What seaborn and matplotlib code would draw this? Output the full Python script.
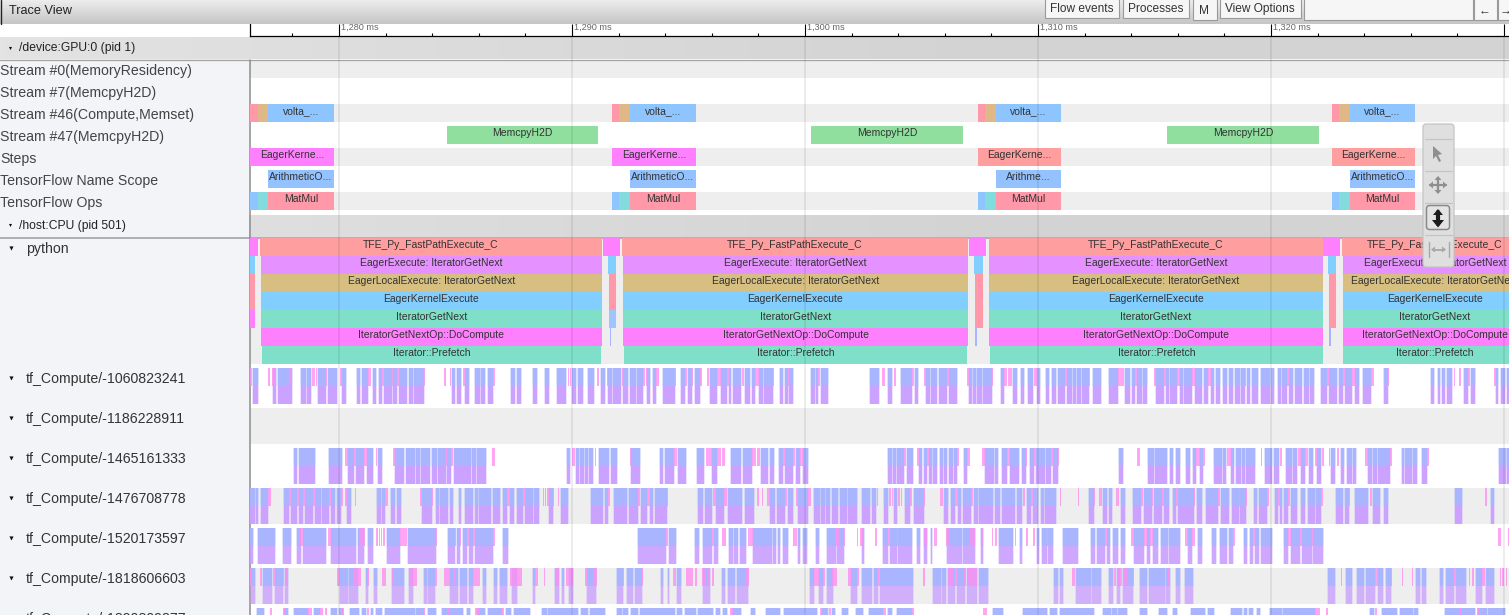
import numpy as np
import pandas as pd
import matplotlib
matplotlib.use("Agg")
import matplotlib.pyplot as plt
from matplotlib.patches import FancyBboxPatch, Polygon, Rectangle
import seaborn as sns

### Trace View (TensorFlow profiler) ###

# Tempos dos slices: unidades de 1/23.3 ms contadas a partir do inicio da janela
T0 = 1276.18
UNITS_PER_MS = 23.3
T_END = 1259

major_ms = [1280, 1290, 1300, 1310, 1320, 1330]
minor_ms = [1278, 1282, 1284, 1286, 1288, 1292, 1294, 1296, 1298, 1302, 1304, 1306, 1308,
            1312, 1314, 1316, 1318, 1322, 1324, 1326, 1328]
major_labels = ["1,280 ms", "1,290 ms", "1,300 ms", "1,310 ms", "1,320 ms", ""]

stream_names = ["Stream #0(MemoryResidency)", "Stream #7(MemcpyH2D)", "Stream #46(Compute,Memset)",
                "Stream #47(MemcpyH2D)", "Steps", "TensorFlow Name Scope", "TensorFlow Ops"]
track_names = ["python", "tf_Compute/-1060823241", "tf_Compute/-1186228911", "tf_Compute/-1465161333",
               "tf_Compute/-1476708778", "tf_Compute/-1520173597", "tf_Compute/-1818606603",
               "tf_Compute/-1899809877"]

# GPU
gpu_pre_a = [(0, 8), (362, 369), (728, 735), (1082, 1089)]
gpu_pre_b = [(8, 18), (369, 380), (735, 746), (1089, 1099.5)]
gpu_main = [(18, 84), (380, 446), (746, 811), (1099.5, 1165)]
memcpy_spans = [(196.5, 348), (561, 713), (917, 1069)]
steps_spans = [(0, 84), (362, 446), (728, 811), (1082, 1165)]
steps_colours = ["#ff80ff", "#ff80ff", "#ff9e9e", "#ff9e9e"]
scope_labels = ["ArithmeticO...", "ArithmeticO...", "Arithme...", "ArithmeticO..."]

# python (sete niveis empilhados)
py_names = ["TFE_Py_FastPathExecute_C", "EagerExecute: IteratorGetNext", "EagerLocalExecute: IteratorGetNext",
            "EagerKernelExecute", "IteratorGetNext", "IteratorGetNextOp::DoCompute", "Iterator::Prefetch"]
py_colours = ["#ff9e9e", "#e591ff", "#d6bf80", "#82ceff", "#7fdfc8", "#ff80ff", "#7fdfc8"]
py_spans = [[(10, 352), (371.5, 718), (738.5, 1073), (1091.5, 1277)],
            [(11, 352), (373, 718), (739, 1073), (1093, 1277)],
            [(11, 352), (373, 718), (739, 1073), (1093, 1277)],
            [(11, 352), (373, 718), (739, 1073), (1093, 1277)],
            [(11, 352), (373, 718), (739, 1073), (1093, 1277)],
            [(11, 352), (373, 718), (739, 1073), (1093, 1277)],
            [(12, 351), (374, 717), (740, 1073), (1093, 1277)]]
py_gap_spans = [(0, 0, 8, "#ff80ff"), (0, 353, 370, "#ff80ff"), (0, 719, 736, "#ff80ff"), (0, 1073, 1090, "#ff80ff"),
                (1, 0, 5, "#82ceff"), (1, 358, 366, "#82ceff"), (1, 724, 733, "#82ceff"), (1, 1078, 1086.5, "#82ceff"),
                (2, 0, 5, "#ff99aa"), (2, 359, 366, "#ff99aa"), (2, 725, 733, "#ff99aa"), (2, 1079, 1086, "#ff99aa"),
                (3, 0, 5, "#ff99aa"), (3, 359, 366, "#ff99aa"), (3, 725, 733, "#ff99aa"), (3, 1079, 1086, "#ff99aa"),
                (4, 0, 5, "#ff80ff"), (4, 359, 366, "#a0c4ff"), (4, 725, 733, "#ff99aa"), (4, 1079, 1086, "#ff99aa"),
                (5, 360, 361, "#a9b4ff"), (5, 725, 727, "#a9b4ff"), (5, 1079, 1081, "#a9b4ff")]

# tf_Compute
r1_busy = [(3, 8), (23, 26), (28, 42), (51, 56), (57, 61), (68, 76), (78, 87), (92, 96), (107, 110), (112, 118),
           (123, 126), (129, 132), (134, 142), (143, 147), (149, 157), (159, 163), (164, 174), (202, 205), (207, 211),
           (215, 219), (225, 230), (231, 235), (238, 243), (261, 265), (267, 271), (283, 287), (295, 299), (307, 316),
           (322, 326), (328, 333), (338, 344), (351, 355), (358, 362), (363, 371), (373, 378), (380, 386), (387, 393),
           (397, 400), (403, 406), (413, 425), (431, 435), (438, 442), (445, 450), (460, 467), (471, 477), (479, 481),
           (483, 491), (495, 500), (502, 505), (509, 513), (514, 523), (530, 533), (535, 538), (539, 543), (561, 565),
           (566, 568), (571, 578), (620, 629), (638, 642), (651, 662), (665, 668), (676, 680), (681, 687), (689, 697),
           (699, 707), (719, 722), (723, 726), (727, 732), (733, 742), (751, 754), (763, 767), (771, 774), (778, 783),
           (787, 790), (796, 799), (802, 806), (808, 815), (817, 822), (823, 826), (827, 831), (832, 839), (843, 851),
           (859, 868), (875, 880), (882, 885), (887, 892), (893, 897), (906, 914), (916, 919), (920, 927), (930, 933),
           (934, 942), (945, 952), (954, 958), (961, 964), (966, 970), (973, 977), (979, 983), (985, 990), (991, 995),
           (997, 1000), (1002, 1008), (1011, 1020), (1021, 1024), (1028, 1031), (1032, 1037), (1039, 1043), (1045, 1052),
           (1054, 1059), (1060, 1064), (1071, 1077), (1079, 1087), (1089, 1093), (1095, 1102), (1105, 1109), (1113, 1121),
           (1134, 1138), (1181, 1184), (1188, 1190), (1192, 1195), (1197, 1202), (1214, 1218), (1221, 1225), (1246, 1248),
           (1251, 1255), (1257, 1259)]
r1_pink = [(0, 2), (18, 20), (22, 25), (40, 42), (62, 65), (66, 67), (76, 77), (90, 92), (118, 121), (132, 134),
           (142, 143), (147, 149), (173, 175), (194, 196), (200, 201), (213, 215), (243, 245), (318, 319), (320, 321),
           (347, 349), (357, 358), (372, 373), (393, 395), (396, 397), (406, 409), (425, 426), (435, 437), (442, 443),
           (450, 452), (457, 459), (467, 471), (477, 479), (492, 494), (505, 509), (523, 524), (538, 539), (568, 570),
           (632, 635), (644, 646), (662, 664), (674, 676), (697, 699), (717, 719), (742, 743), (754, 757), (758, 762),
           (784, 787), (815, 817), (839, 840), (868, 874), (885, 887), (904, 906), (914, 916), (927, 930), (942, 945),
           (958, 961), (995, 996), (1037, 1039), (1077, 1079), (1093, 1095), (1102, 1105), (1121, 1124), (1138, 1139),
           (1204, 1205), (1209, 1211), (1218, 1220), (1244, 1246)]

r3_busy = [(44, 47), (49, 65), (79, 92), (98, 104), (106, 114), (117, 123), (128, 132), (145, 154), (156, 165), (166, 170),
           (171, 180), (182, 187), (188, 196), (197, 201), (204, 213), (213, 221), (222, 226), (227, 236), (317, 320),
           (326, 329), (330, 334), (335, 338), (339, 343), (349, 359), (361, 367), (381, 390), (410, 413), (415, 424),
           (428, 436), (447, 454), (462, 467), (481, 491), (493, 502), (511, 518), (520, 524), (529, 533), (535, 543),
           (546, 550), (553, 558), (638, 642), (643, 646), (647, 654), (657, 663), (669, 672), (674, 677), (679, 682),
           (683, 687), (690, 693), (694, 697), (699, 703), (704, 707), (714, 717), (735, 744), (745, 748), (752, 757),
           (760, 769), (772, 776), (780, 784), (786, 795), (796, 801), (803, 808), (869, 873), (898, 904), (905, 917),
           (920, 923), (926, 930), (936, 940), (943, 946), (950, 953), (964, 972), (973, 976), (981, 984), (986, 991),
           (992, 995), (996, 1005), (1015, 1022), (1024, 1029), (1036, 1042), (1043, 1047), (1051, 1055), (1059, 1063),
           (1067, 1071), (1081, 1085), (1091, 1094), (1097, 1102), (1103, 1106), (1118, 1122), (1123, 1127), (1128, 1134),
           (1134, 1140), (1152, 1154), (1155, 1162), (1163, 1167), (1172, 1177), (1249, 1256), (1257, 1259)]
r3_pink = [(49, 50), (95, 98), (104, 106), (114, 117), (126, 127), (143, 145), (196, 197), (201, 203), (242, 245),
           (322, 325), (345, 346), (380, 381), (424, 427), (456, 459), (459, 462), (467, 471), (472, 475), (502, 506),
           (507, 510), (533, 535), (543, 545), (550, 553), (654, 656), (667, 669), (677, 679), (707, 709), (717, 720),
           (732, 735), (757, 760), (776, 777), (784, 786), (801, 803), (808, 809), (887, 890), (946, 950), (953, 955),
           (977, 981), (1011, 1012), (1030, 1032), (1048, 1051), (1055, 1058), (1065, 1067), (1072, 1074), (1079, 1080),
           (1087, 1089), (1115, 1118), (1140, 1142), (1177, 1179)]

r4_busy = [(0, 5), (6, 8), (11, 18), (34, 39), (41, 47), (49, 53), (55, 63), (65, 71), (72, 79), (81, 85), (87, 91),
           (97, 101), (127, 131), (132, 135), (141, 145), (147, 151), (172, 182), (186, 189), (190, 198), (200, 203),
           (209, 211), (215, 223), (225, 228), (229, 241), (243, 250), (253, 257), (260, 264), (267, 273), (275, 283),
           (284, 289), (299, 303), (311, 318), (341, 353), (355, 358), (364, 377), (379, 388), (391, 397), (400, 403),
           (405, 417), (448, 453), (455, 462), (466, 474), (478, 492), (495, 504), (520, 525), (527, 535), (538, 543),
           (548, 558), (564, 570), (571, 575), (576, 580), (582, 588), (590, 597), (598, 607), (612, 620), (622, 626),
           (634, 638), (644, 647), (655, 660), (664, 674), (694, 698), (701, 705), (708, 711), (713, 721), (724, 728),
           (729, 743), (745, 750), (752, 765), (767, 772), (777, 781), (783, 788), (791, 794), (795, 806), (839, 844),
           (853, 857), (859, 862), (871, 875), (883, 891), (894, 902), (904, 912), (914, 919), (923, 926), (928, 944),
           (947, 952), (956, 968), (971, 979), (982, 989), (990, 996), (1004, 1007), (1009, 1017), (1025, 1028),
           (1030, 1032), (1034, 1038), (1041, 1047), (1051, 1055), (1058, 1065), (1066, 1071), (1086, 1093), (1095, 1099),
           (1105, 1118), (1123, 1130), (1134, 1138), (1205, 1212), (1241, 1244)]
r4_pink = [(18, 21), (39, 41), (47, 49), (53, 55), (63, 65), (79, 81), (91, 93), (95, 97), (105, 106), (135, 138),
           (170, 172), (182, 183), (257, 260), (273, 275), (293, 294), (295, 296), (297, 299), (303, 304), (308, 309),
           (358, 360), (388, 390), (397, 400), (417, 418), (463, 466), (474, 477), (507, 509), (512, 513), (517, 520),
           (535, 537), (546, 548), (558, 561), (627, 628), (639, 641), (642, 643), (648, 650), (651, 652), (660, 662),
           (674, 675), (690, 693), (705, 708), (721, 723), (773, 775), (781, 783), (810, 811), (828, 829), (844, 845),
           (849, 852), (866, 869), (891, 893), (902, 903), (912, 914), (926, 928), (944, 945), (968, 970), (989, 990),
           (996, 997), (1017, 1019), (1028, 1030), (1038, 1040), (1071, 1073), (1099, 1100), (1120, 1122), (1235, 1237)]

r5_busy = [(0, 3), (8, 25), (33, 41), (47, 51), (53, 76), (81, 106), (108, 114), (118, 123), (137, 150), (158, 186),
           (198, 205), (207, 210), (213, 217), (219, 223), (225, 243), (253, 258), (388, 416), (419, 426), (445, 449),
           (453, 462), (464, 468), (479, 483), (484, 488), (490, 496), (503, 522), (523, 526), (528, 530), (533, 538),
           (548, 550), (553, 557), (566, 569), (577, 586), (587, 594), (612, 614), (633, 638), (640, 647), (648, 662),
           (667, 670), (674, 677), (681, 682), (697, 712), (713, 725), (731, 733), (749, 763), (770, 772), (787, 789),
           (792, 797), (798, 803), (813, 828), (841, 845), (847, 855), (857, 860), (863, 868), (871, 875), (884, 894),
           (897, 900), (903, 908), (911, 918), (919, 930), (938, 942), (948, 952), (962, 966), (970, 977), (979, 983),
           (994, 997), (1000, 1003), (1005, 1009), (1011, 1022), (1034, 1038), (1041, 1050), (1052, 1062), (1063, 1073)]
r5_pink = [(50, 53), (78, 81), (110, 113), (114, 115), (126, 128), (129, 130), (131, 132), (133, 135), (150, 157),
           (186, 187), (205, 206), (210, 211), (217, 219), (223, 225), (243, 245), (415, 418), (462, 464), (472, 476),
           (498, 503), (543, 547), (586, 589), (594, 595), (607, 608), (610, 614), (625, 627), (638, 640), (647, 648),
           (674, 677), (684, 687), (696, 699), (720, 725), (731, 733), (742, 743), (745, 747), (765, 766), (776, 778),
           (783, 785), (797, 798), (855, 857), (881, 884), (894, 897), (900, 903), (935, 938), (942, 945), (983, 985),
           (1003, 1005), (1038, 1041), (1050, 1052), (1062, 1063), (1248, 1251), (1258, 1259)]

r6_busy = [(1, 5), (13, 22), (25, 33), (35, 38), (90, 98), (99, 108), (116, 118), (124, 127), (142, 154), (159, 163),
           (174, 177), (178, 185), (200, 208), (210, 217), (219, 223), (233, 236), (244, 247), (250, 257), (262, 267),
           (283, 285), (305, 309), (312, 314), (319, 323), (337, 346), (367, 373), (377, 383), (385, 392), (411, 413),
           (418, 419), (427, 431), (453, 460), (472, 475), (478, 485), (487, 498), (560, 564), (569, 573), (577, 583),
           (601, 607), (612, 622), (624, 628), (630, 663), (683, 691), (692, 696), (698, 705), (707, 715), (717, 727),
           (729, 738), (804, 808), (810, 813), (826, 841), (842, 851), (859, 863), (867, 870), (873, 883), (890, 897),
           (899, 915), (916, 920), (926, 930), (935, 943), (1078, 1085), (1096, 1102), (1107, 1114), (1116, 1125),
           (1128, 1133), (1136, 1141), (1166, 1170), (1172, 1176), (1190, 1193), (1196, 1204), (1206, 1216), (1226, 1232),
           (1236, 1244)]
r6_pink = [(0, 1), (10, 12), (23, 25), (33, 34), (36, 38), (87, 90), (103, 108), (108, 111), (118, 119), (132, 136),
           (142, 143), (159, 167), (185, 187), (194, 200), (204, 206), (223, 230), (260, 272), (285, 288), (294, 295),
           (305, 309), (316, 323), (335, 338), (343, 347), (373, 374), (392, 393), (423, 426), (436, 443), (445, 447),
           (452, 455), (457, 460), (462, 464), (495, 499), (564, 567), (567, 569), (573, 575), (582, 587), (598, 601),
           (607, 609), (628, 630), (673, 675), (698, 703), (705, 708), (714, 716), (718, 727), (822, 825), (864, 866),
           (867, 872), (873, 878), (883, 884), (917, 920), (1091, 1092), (1125, 1128), (1141, 1142), (1152, 1153),
           (1162, 1163), (1204, 1206), (1219, 1220), (1222, 1224), (1232, 1235), (1250, 1251), (1252, 1254), (1256, 1257)]

r7_busy = [(7, 14), (34, 38), (44, 58), (64, 70), (81, 87), (89, 93), (100, 109), (112, 116), (121, 123), (126, 132),
           (135, 165), (166, 174), (178, 186), (192, 213), (217, 220), (227, 235), (238, 252), (256, 261), (264, 280),
           (292, 297), (298, 328), (331, 338), (340, 355), (367, 372), (373, 378), (381, 388), (390, 425), (427, 432),
           (435, 446), (448, 463), (466, 470), (473, 477), (482, 491), (501, 505), (516, 530), (534, 567), (572, 578),
           (582, 585), (592, 598), (606, 613), (619, 633), (638, 642), (647, 662), (743, 753), (773, 797), (800, 807),
           (810, 844), (853, 861), (862, 867), (868, 877), (890, 897), (909, 917), (923, 927), (941, 955), (958, 964),
           (981, 992), (994, 997), (999, 1003), (1007, 1010), (1020, 1032), (1033, 1065), (1120, 1124), (1132, 1147),
           (1150, 1163), (1164, 1168), (1195, 1225), (1228, 1237), (1238, 1247), (1247, 1255)]
r7_pink = [(20, 22), (33, 35), (58, 62), (70, 73), (75, 77), (92, 94), (117, 119), (173, 175), (197, 199), (225, 229),
           (252, 254), (480, 483), (570, 572), (579, 581), (633, 636), (662, 664), (733, 737), (1065, 1070), (1076, 1078),
           (1125, 1127), (1210, 1212), (1227, 1229)]

dense_tracks = [(368, r1_busy, r1_pink, 1.0), (448, r3_busy, r3_pink, 1.0), (488, r4_busy, r4_pink, 1.0),
                (528, r5_busy, r5_pink, 0.9), (568, r6_busy, r6_pink, 0.72)]


def to_ms(units):
    return T0 + np.asarray(units) / UNITS_PER_MS


def draw_slice(ax, span, top, height, colour):
    # native_scale deixa a barra na posicao y real do trilho
    t0, t1 = to_ms(span[0]), to_ms(span[1])
    sns.barplot(x=[t1 - t0], y=[top + height / 2], orient="y", native_scale=True, width=height, left=t0,
                color=colour, saturation=1, errorbar=None, linewidth=0, ax=ax)


def slice_label(ax, center, top, text):
    ax.text(to_ms(center), top + 7, text, ha="center", va="center", fontsize=7.5, color="#333333", zorder=5, clip_on=True)


def draw_spans(ax, spans, top, height, colour, alpha=1.0, zorder=2, pad=0):
    # pad: borda clara em volta de cada bloco, como no navegador
    ranges = [(to_ms(a - pad), (b - a + 2 * pad) / UNITS_PER_MS) for a, b in spans]
    ax.broken_barh(ranges, (top, height), facecolors=colour, alpha=alpha, linewidth=0, zorder=zorder)


sns.set_theme(style="white")
plt.rcParams["font.family"] = ["Liberation Sans", "DejaVu Sans"]

W, H = 1509, 615
fig = plt.figure(figsize=(W / 100, H / 100), dpi=100, facecolor="white")

# fundo: painel esquerdo, faixas dos trilhos
ax_bg = fig.add_axes([0, 0, 1, 1], zorder=0)
ax_bg.set_xlim(0, W)
ax_bg.set_ylim(H, 0)
ax_bg.axis("off")
ax_bg.add_patch(Rectangle((0, 59), 249, H - 59, fc="#f3f4f7", ec="none"))
for y0, y1 in [(60, 78), (104, 122), (148, 166), (192, 210), (238, 364), (408, 444), (488, 524), (568, 604)]:
    ax_bg.add_patch(Rectangle((250, y0), W - 250, y1 - y0, fc="#eeeeee", ec="none"))
grad = np.clip(np.linspace(0, 1, 300) / 0.66, 0, 1).reshape(1, -1)
for y0, y1 in [(37, 59), (215, 237)]:
    ax_bg.imshow(grad, extent=(0, W, y1, y0), aspect="auto", cmap=sns.blend_palette(["#e3e3e3", "#d3d3d3"], as_cmap=True),
                 vmin=0, vmax=1)
ax_bg.set_xlim(0, W)
ax_bg.set_ylim(H, 0)
ax_bg.plot([0, W], [59.5, 59.5], color="#a3a3a3", lw=0.9)
ax_bg.plot([0, W], [237.5, 237.5], color="#a3a3a3", lw=1.2)
ax_bg.plot([249.5, 249.5], [60, H], color="#8c8c8c", lw=1.1)

# eixo de tempo
ax = fig.add_axes([250 / W, 0, (W - 250) / W, 1], zorder=1)
ax.patch.set_alpha(0)

for i in range(4):
    # Stream #46
    draw_slice(ax, gpu_pre_a[i], 104, 18, "#ff99aa")
    draw_slice(ax, gpu_pre_b[i], 104, 18, "#e0b787")
    draw_slice(ax, gpu_main[i], 104, 18, "#8fc5ff")
    slice_label(ax, sum(gpu_main[i]) / 2, 104, "volta_...")
    # Steps
    draw_slice(ax, steps_spans[i], 148, 18, steps_colours[i])
    slice_label(ax, (gpu_pre_a[i][0] + gpu_main[i][1]) / 2, 148, "EagerKerne...")
    # Name Scope
    draw_slice(ax, gpu_main[i], 170, 18, "#94c2ff")
    slice_label(ax, sum(gpu_main[i]) / 2, 170, scope_labels[i])
    # Ops
    draw_slice(ax, gpu_pre_a[i], 192, 18, "#8fc5ff")
    draw_slice(ax, gpu_pre_b[i], 192, 18, "#82dbdc")
    draw_slice(ax, gpu_main[i], 192, 18, "#ff99aa")
    slice_label(ax, sum(gpu_main[i]) / 2, 192, "MatMul")

for span in memcpy_spans:
    draw_slice(ax, span, 126, 18, "#90df9e")
    slice_label(ax, sum(span) / 2, 126, "MemcpyH2D")

for level, (name, colour, spans) in enumerate(zip(py_names, py_colours, py_spans)):
    top = 238 + 18 * level
    for span in spans:
        draw_slice(ax, span, top, 18, colour)
        slice_label(ax, sum(span) / 2, top, name)
for level, a, b, colour in py_gap_spans:
    draw_slice(ax, (a, b), 238 + 18 * level, 18, colour)

for top, busy, pink, lower_alpha in dense_tracks:
    draw_spans(ax, busy, top, 18, "#a9b5ff", alpha=0.4, zorder=1.5, pad=1)
    draw_spans(ax, busy, top, 18, "#a9b5ff")
    draw_spans(ax, pink, top, 18, "#ff8ff0", alpha=0.8, zorder=3)
    draw_spans(ax, busy, top + 18, 18, "#cba2ff", alpha=0.3, zorder=1.5, pad=1)
    draw_spans(ax, busy, top + 18, 18, "#cba2ff", alpha=lower_alpha)
draw_spans(ax, r7_busy, 608, 18, "#a9b5ff", alpha=0.4, zorder=1.5, pad=1)
draw_spans(ax, r7_busy, 608, 18, "#a9b5ff")
draw_spans(ax, r7_pink, 608, 18, "#ff8ff0", alpha=0.8, zorder=3)

# linhas de grade dos majors
ax.vlines(major_ms, 36, H, color="black", alpha=0.08, lw=1.3, zorder=6)

ax.set_xlim(to_ms(0), to_ms(T_END))
ax.set_ylim(H, 0)
ax.set_xlabel("")
ax.set_ylabel("")
ax.set_xticks([])
ax.set_yticks([])
sns.despine(ax=ax, left=True, bottom=True)

# regua
ax_ruler = fig.add_axes([250 / W, 1 - 35.5 / H, (W - 250) / W, 11.5 / H], zorder=2)
ax_ruler.set_xlim(to_ms(0), to_ms(T_END))
ax_ruler.set_ylim(0, 1)
ax_ruler.patch.set_alpha(0)
ax_ruler.set_yticks([])
ax_ruler.set_xticks(major_ms)
ax_ruler.set_xticks(minor_ms, minor=True)
ax_ruler.set_xticklabels([])
ax_ruler.tick_params(axis="x", which="major", direction="in", length=8.5, width=0.8, color="black", bottom=True)
ax_ruler.tick_params(axis="x", which="minor", direction="in", length=2.5, width=0.8, color="black", bottom=True)
sns.despine(ax=ax_ruler, top=True, right=True, left=False)
for side in ["bottom", "left"]:
    ax_ruler.spines[side].set_color("black")
    ax_ruler.spines[side].set_linewidth(0.9)
for ms, lab in zip(major_ms, major_labels):
    ax_ruler.text(ms + 0.1, 0.68, lab, fontsize=6.6, color="#666666", ha="left", va="center")

# interface: barra, rotulos, caixa de ferramentas
ui = fig.add_axes([0, 0, 1, 1], zorder=3)
ui.set_xlim(0, W)
ui.set_ylim(H, 0)
ui.axis("off")

ui.imshow(np.linspace(0, 1, 24).reshape(-1, 1), extent=(0, W, 24, 0), aspect="auto",
          cmap=sns.blend_palette(["#ececec", "#d9d9d9", "#c6c6c6"], as_cmap=True), vmin=0, vmax=1)
ui.set_xlim(0, W)
ui.set_ylim(H, 0)
ui.plot([0.5, 0.5], [0, 24], color="#222222", lw=1)
ui.text(9, 10.5, "Trace View", fontsize=9.2, color="#222222", va="center")

buttons = [(1044, 1119, 18, "Flow events"), (1122, 1189, 18, "Processes"), (1192, 1217, 20, "M"),
           (1219, 1301, 18, "View Options"), (1303, 1473, 20, ""), (1473, 1497, 20, "\u2190"), (1497, 1515, 20, "\u2192")]
for x0, x1, h, lab in buttons:
    ui.add_patch(Rectangle((x0 + 0.5, -2), x1 - x0 - 1, h + 2, fc="#f6f6f6", ec="#9a9a9a", lw=0.8))
    if lab:
        ui.text((x0 + x1) / 2, 9 if h == 18 else 10.5, lab, fontsize=8.6, color="#333333", ha="center", va="center")

ui.text(19, 47.5, "/device:GPU:0 (pid 1)", fontsize=8.7, color="#222222", va="center")
ui.text(19, 225.5, "/host:CPU (pid 501)", fontsize=8.7, color="#222222", va="center")
ui.scatter([9.5, 9.5], [47.5, 225], marker="v", s=5, color="#111111", linewidths=0)

for i, name in enumerate(stream_names):
    ui.text(0, 71 + 22 * i, name, fontsize=10.2, color="#444444", va="center")

for y, name in zip([248, 378, 418, 458, 498, 538, 578, 618], track_names):
    ui.text(26, y + 1, name, fontsize=10.2, color="#333333", va="center", clip_on=True)
    ui.scatter([11], [y], marker="v", s=9, color="#111111", linewidths=0, clip_on=True)

# caixa de ferramentas
ui.add_patch(FancyBboxPatch((1425, 126), 27, 139, boxstyle="round,pad=2,rounding_size=3", fc="#dfdfdf", ec="#c4c4c4", lw=0.9))
for y in [138.5, 170.5, 202.5, 234.5]:
    ui.plot([1425, 1452], [y, y], color="#c4c4c4", lw=0.9)
grip_x, grip_y = np.meshgrid(np.arange(1427, 1451, 2), [128.5, 130.5, 132.5])
ui.scatter(grip_x.ravel(), grip_y.ravel(), marker="s", s=0.5, color="#a8a8a8", linewidths=0)
ui.add_patch(Polygon([(1433, 146), (1433, 159), (1436, 156), (1439, 162), (1441, 161), (1438, 155), (1442, 154)],
                     fc="#8f8f8f", ec="none"))
# seta de mover: quatro pontas
ui.plot([1438, 1438], [178, 192], color="#8f8f8f", lw=1.6)
ui.plot([1430, 1446], [185, 185], color="#8f8f8f", lw=1.6)
ui.add_patch(Polygon([(1438, 176), (1434.5, 180), (1441.5, 180)], fc="#8f8f8f", ec="none"))
ui.add_patch(Polygon([(1438, 194), (1434.5, 190), (1441.5, 190)], fc="#8f8f8f", ec="none"))
ui.add_patch(Polygon([(1429, 185), (1433, 181.5), (1433, 188.5)], fc="#8f8f8f", ec="none"))
ui.add_patch(Polygon([(1447, 185), (1443, 181.5), (1443, 188.5)], fc="#8f8f8f", ec="none"))
# zoom vertical, ativo
ui.add_patch(FancyBboxPatch((1427.5, 206.5), 21, 22, boxstyle="round,pad=1,rounding_size=3", fc="#e4e4e4", ec="#8a8a8a", lw=1.1))
ui.plot([1438, 1438], [212, 224], color="#1c1c1c", lw=3)
ui.add_patch(Polygon([(1438, 209), (1433, 215), (1443, 215)], fc="#1c1c1c", ec="none"))
ui.add_patch(Polygon([(1438, 227.5), (1432, 220), (1444, 220)], fc="#1c1c1c", ec="none"))
# zoom horizontal, inativo
ui.plot([1428.5, 1428.5], [242, 257], color="#a8a8a8", lw=1)
ui.plot([1448.5, 1448.5], [242, 257], color="#a8a8a8", lw=1)
ui.plot([1433, 1444], [249.5, 249.5], color="#a8a8a8", lw=1.3)
ui.add_patch(Polygon([(1431, 249.5), (1435, 246.5), (1435, 252.5)], fc="#a8a8a8", ec="none"))
ui.add_patch(Polygon([(1446, 249.5), (1442, 246.5), (1442, 252.5)], fc="#a8a8a8", ec="none"))

fig.savefig("out.png", dpi=100)
